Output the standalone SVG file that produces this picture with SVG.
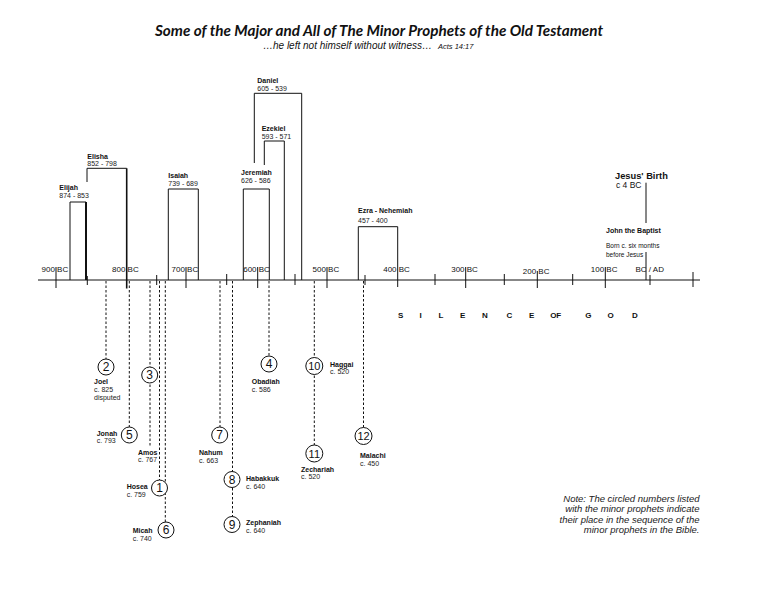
<svg xmlns="http://www.w3.org/2000/svg" width="768" height="593" viewBox="0 0 768 593">
<style>
text{font-family:"Liberation Sans",Arial,sans-serif;fill:#111}
.t{font-family:Lato,"Liberation Sans",sans-serif;font-weight:bold;font-style:italic;font-size:14.5px}
.sub{font-style:italic;font-size:10px}
.ax{font-size:8px}
.nm{font-weight:bold;font-size:7px}
.dt{font-size:7px;fill:#222}
.ln{font-weight:bold;font-size:7px}
.ld{font-size:7px;fill:#222}
.num{font-size:12px;text-anchor:middle}
.num2{font-size:11px;text-anchor:middle}
.br{fill:none;stroke:#111;stroke-width:1}
.tk{stroke:#111;stroke-width:1}
.dash{fill:none;stroke:#111;stroke-width:1;stroke-dasharray:2.5 2}
.cir{fill:#fff;stroke:#111;stroke-width:1}
.sg{font-weight:bold;font-size:8px;text-anchor:middle}
.note{font-style:italic;font-size:9.5px;text-anchor:end;fill:#222}
</style>
<rect width="768" height="593" fill="#fff"/>
<g id="title">
<text class="t" x="379" y="35.5" text-anchor="middle" textLength="448" lengthAdjust="spacingAndGlyphs">Some of the Major and All of The Minor Prophets of the Old Testament</text>
<text class="sub" x="263" y="48.5">…he left not himself without witness… <tspan font-size="7.5" x="438">Acts 14:17</tspan></text>
</g>
<g id="connectors">
<path class="dash" d="M106,281V359M129.3,281V427M150,281V447M159.5,281V480M165.3,281V522M220,281V427M232.5,281V516.5M269,281V356M314.3,281V445.5M363.5,281V428"/>
</g>
<g id="timeline">
<line class="tk" x1="38" y1="280" x2="700" y2="280"/>
<path class="tk" d="M56,267V288M186,267V288M257.7,267V288M327,267V288M465.7,267V288M537.3,271V288M605.3,267V288"/>
<path class="tk" d="M87.3,276V285M156.7,275V285M226.7,274V285M295,274V285M365,275V285M435,274V285M504.3,274V285M572.7,274V285M650,275V285M693,272V287"/>
<text class="ax" x="41.5" y="272">900 BC</text>
<text class="ax" x="112" y="272">800 BC</text>
<text class="ax" x="171.5" y="272">700 BC</text>
<text class="ax" x="243.2" y="272">600 BC</text>
<text class="ax" x="312.5" y="272">500 BC</text>
<text class="ax" x="383.2" y="272">400 BC</text>
<text class="ax" x="451.2" y="272">300 BC</text>
<text class="ax" x="522.8" y="274">200 BC</text>
<text class="ax" x="590.8" y="272">100 BC</text>
<text class="ax" x="635.5" y="272">BC / AD</text>
</g>
<g id="elijah">
<path class="br" d="M70,280V202H86"/>
<line x1="86" y1="202" x2="86" y2="280" stroke="#111" stroke-width="2"/>
<text class="nm" x="59.3" y="189.5">Elijah</text>
<text class="dt" x="59.3" y="198">874 - 853</text>
</g>
<g id="elisha">
<path class="br" d="M87,182V168.3H126.7"/>
<line x1="126.7" y1="168.3" x2="126.7" y2="288.5" stroke="#111" stroke-width="1.6"/>
<text class="nm" x="87.3" y="158.5">Elisha</text>
<text class="dt" x="87.3" y="166">852 - 798</text>
</g>
<g id="isaiah">
<path class="br" d="M168.3,280V189H198.3V280"/>
<text class="nm" x="168.3" y="178">Isaiah</text>
<text class="dt" x="168.3" y="186">739 - 689</text>
</g>
<g id="jeremiah">
<path class="br" d="M243.3,280V189H269.3V280"/>
<text class="nm" x="241" y="175">Jeremiah</text>
<text class="dt" x="241" y="183">626 - 586</text>
</g>
<g id="ezekiel">
<path class="br" d="M264.3,165V141H284.3V280"/>
<text class="nm" x="261.7" y="130.5">Ezekiel</text>
<text class="dt" x="261.7" y="139">593 - 571</text>
</g>
<g id="daniel">
<path class="br" d="M254.3,163V93.3H301.7V280"/>
<text class="nm" x="257.3" y="82.5">Daniel</text>
<text class="dt" x="257.3" y="90.5">605 - 539</text>
</g>
<g id="ezra-nehemiah">
<path class="br" d="M358.3,280V226.7H397.7V287"/>
<text class="nm" x="358" y="213">Ezra - Nehemiah</text>
<text class="dt" x="358" y="222.5">457 - 400</text>
</g>
<g id="jesus">
<path class="br" d="M646,182.7V223M646,252V280"/>
<text x="615" y="178.5" font-weight="bold" font-size="9.3px">Jesus' Birth</text>
<text x="616" y="188" font-size="8.5px" fill="#222">c 4 BC</text>
</g>
<g id="john-the-baptist">
<text class="nm" x="606" y="233">John the Baptist</text>
<text x="606" y="248" font-size="6.5px" fill="#222">Born c. six months</text>
<text x="606" y="256.5" font-size="6.5px" fill="#222">before Jesus</text>
</g>
<g id="silence">
<text class="sg" x="400.7" y="318">S</text>
<text class="sg" x="420.7" y="318">I</text>
<text class="sg" x="441" y="318">L</text>
<text class="sg" x="462.7" y="318">E</text>
<text class="sg" x="485" y="318">N</text>
<text class="sg" x="509.3" y="318">C</text>
<text class="sg" x="531.7" y="318">E</text>
<text class="sg" x="555.7" y="318" font-size="6.5px">OF</text>
<text class="sg" x="588.3" y="318">G</text>
<text class="sg" x="610.7" y="318">O</text>
<text class="sg" x="635" y="318">D</text>
</g>
<g id="hosea"><circle class="cir" cx="159.5" cy="488" r="8"/><text class="num" x="159.5" y="492.3">1</text>
<text class="ln" x="126.7" y="489">Hosea</text><text class="ld" x="126.7" y="496.5">c. 759</text></g>
<g id="joel"><circle class="cir" cx="106" cy="367" r="8"/><text class="num" x="106" y="371.3">2</text>
<text class="ln" x="94" y="384">Joel</text><text class="ld" x="94" y="391.5">c. 825</text><text class="ld" x="94" y="399.5">disputed</text></g>
<g id="amos"><circle class="cir" cx="149.7" cy="375" r="8"/><text class="num" x="149.7" y="379.3">3</text>
<text class="ln" x="138" y="454.5">Amos</text><text class="ld" x="138" y="462">c. 767</text></g>
<g id="obadiah"><circle class="cir" cx="269" cy="364" r="8"/><text class="num" x="269" y="368.3">4</text>
<text class="ln" x="251.7" y="384">Obadiah</text><text class="ld" x="251.7" y="392">c. 586</text></g>
<g id="jonah"><circle class="cir" cx="129.3" cy="435" r="8"/><text class="num" x="129.3" y="439.3">5</text>
<text class="ln" x="96.7" y="435.5">Jonah</text><text class="ld" x="96.7" y="443">c. 793</text></g>
<g id="micah"><circle class="cir" cx="166" cy="530" r="8"/><text class="num" x="166" y="534.3">6</text>
<text class="ln" x="132.7" y="532.5">Micah</text><text class="ld" x="132.7" y="540.5">c. 740</text></g>
<g id="nahum"><circle class="cir" cx="219.7" cy="435" r="8"/><text class="num" x="219.7" y="439.3">7</text>
<text class="ln" x="199" y="455">Nahum</text><text class="ld" x="199" y="462.5">c. 663</text></g>
<g id="habakkuk"><circle class="cir" cx="232" cy="479.5" r="8"/><text class="num" x="232" y="483.8">8</text>
<text class="ln" x="246" y="481">Habakkuk</text><text class="ld" x="246" y="488.5">c. 640</text></g>
<g id="zephaniah"><circle class="cir" cx="232" cy="524.5" r="8"/><text class="num" x="232" y="528.8">9</text>
<text class="ln" x="246" y="525">Zephaniah</text><text class="ld" x="246" y="533">c. 640</text></g>
<g id="haggai"><circle class="cir" cx="314.3" cy="366" r="8.5"/><text class="num2" x="314.3" y="370">10</text>
<text class="ln" x="330" y="366.5">Haggai</text><text class="ld" x="330" y="374">c. 520</text></g>
<g id="zechariah"><circle class="cir" cx="314.3" cy="453.5" r="8.5"/><text class="num2" x="314.3" y="457.5">11</text>
<text class="ln" x="301" y="471.5">Zechariah</text><text class="ld" x="301" y="479">c. 520</text></g>
<g id="malachi"><circle class="cir" cx="363.5" cy="436" r="8.5"/><text class="num2" x="363.5" y="440">12</text>
<text class="ln" x="360" y="458">Malachi</text><text class="ld" x="360" y="466">c. 450</text></g>
<g id="note">
<text class="note" x="699.5" y="501.5">Note: The circled numbers listed</text>
<text class="note" x="699.5" y="512">with the minor prophets indicate</text>
<text class="note" x="699.5" y="522.5">their place in the sequence of the</text>
<text class="note" x="699.5" y="532.5">minor prophets in the Bible.</text>
</g>
</svg>
